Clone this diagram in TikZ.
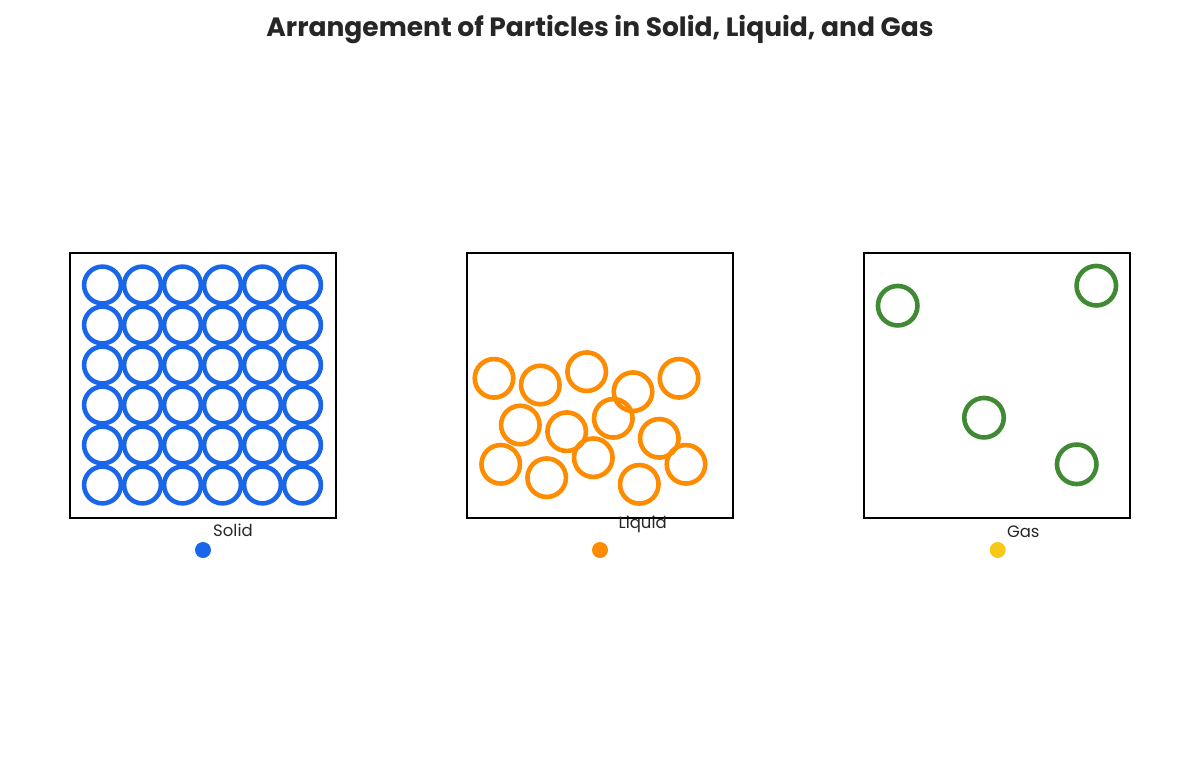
\documentclass[tikz,border=0pt]{standalone}
\usepackage{fontspec}
\setmainfont{Poppins}
\usetikzlibrary{positioning}
\definecolor{solidblue}{HTML}{1A66E8}
\definecolor{liquidorange}{HTML}{FF8C00}
\definecolor{gasgreen}{HTML}{3F8A32}
\definecolor{gasgold}{HTML}{F8C818}
\tikzset{
  box/.style={draw=black, line width=1.8pt, minimum width=266pt, minimum height=265pt, inner sep=0pt},
  particle/.style={circle, draw, line width=4.6pt, inner sep=0pt},
  legenddot/.style={circle, fill, inner sep=0pt, minimum size=16pt},
  statelabel/.style={font=\fontsize{16.5}{18}\selectfont, text=black!85, inner sep=0pt}
}
\begin{document}
\begin{tikzpicture}[x=1pt, y=-1pt]
			%%%%% FRAME %%%%%
			\useasboundingbox (0,0) rectangle (1200,763);
			\node[font=\fontsize{26.5}{30}\selectfont\bfseries, text=black!85] (title) at (600,30) {Arrangement of Particles in Solid, Liquid, and Gas};
			
			%%%%% SOLID %%%%%
			\node[box] (solidbox) at (203,385.5) {};
			\foreach \i in {0,...,5}
				\foreach \j in {0,...,5}
					\node[particle, draw=solidblue, minimum size=36.8pt] (s\i\j) at ({102.5+40*\i},{285+40*\j}) {};
			\node[statelabel] (solidlabel) at (233,530) {Solid};
			\node[legenddot, fill=solidblue] (soliddot) at (203,550) {};
			
			%%%%% LIQUID %%%%%
			\node[box] (liquidbox) at (600,385.5) {};
			\foreach \x/\y [count=\k] in {494/378.3, 540.3/385, 586.7/371.7, 633/391.7, 679/378.3,
				520.3/425, 566.7/431.7, 613.3/418.3, 659.3/438.3,
				500.7/464.3, 546.7/477.7, 593.3/457.7, 639.3/484.3, 686/464.3}
				\node[particle, draw=liquidorange, minimum size=38.5pt] (l\k) at (\x,\y) {};
			\node[statelabel] (liquidlabel) at (642.7,524.5) {Liquid};
			\node[legenddot, fill=liquidorange] (liquiddot) at (600,550) {};
			
			%%%%% GAS %%%%%
			\node[box] (gasbox) at (997,385.5) {};
			\foreach \x/\y [count=\k] in {897.7/305.7, 1096.3/285.7, 984/417.7, 1076.7/464.3}
				\node[particle, draw=gasgreen, minimum size=39.5pt] (g\k) at (\x,\y) {};
			\node[statelabel] (gaslabel) at (1023.3,531.5) {Gas};
			\node[legenddot, fill=gasgold] (gasdot) at (997.7,550) {};
			
			%%%%% END %%%%%
\end{tikzpicture}
\end{document}
